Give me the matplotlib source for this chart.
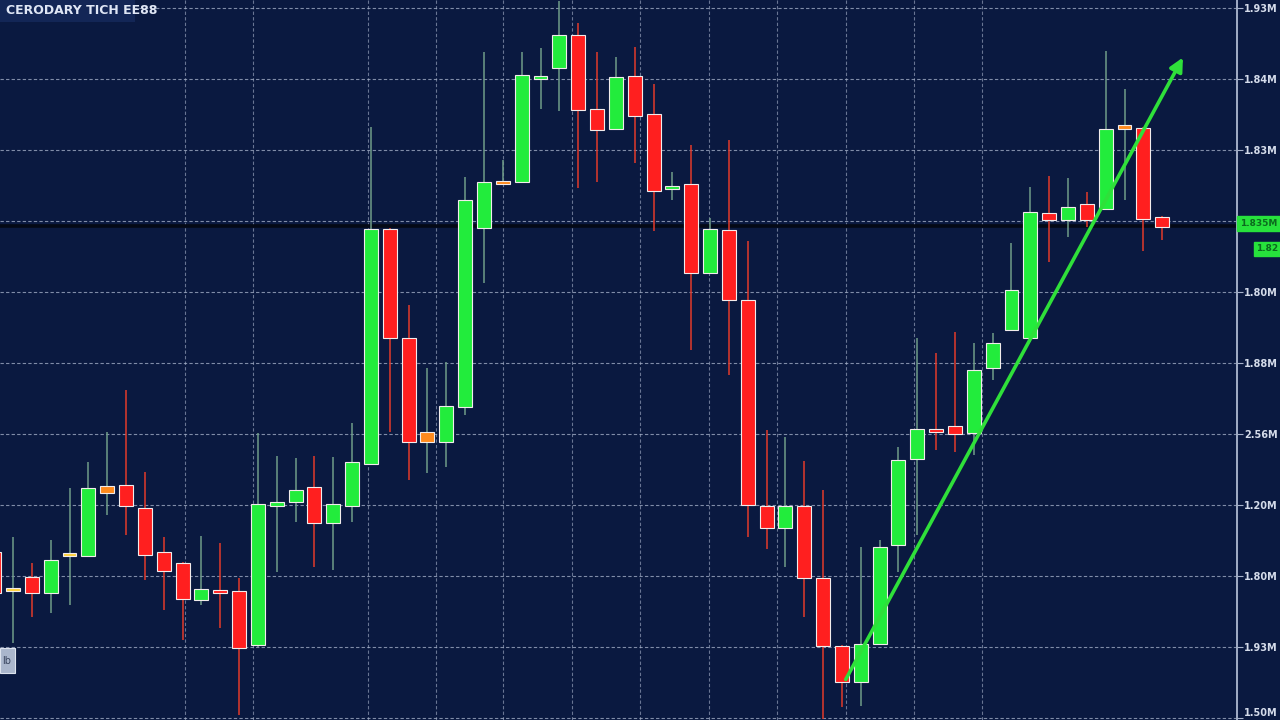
import matplotlib

matplotlib.use("Agg")
import matplotlib.pyplot as plt
import numpy as np
from matplotlib.patches import Rectangle

# ---- data (price units, one candle per session) ----
opens = [123.4, 117.9, 119.9, 117.6, 122.8, 122.8, 131.7, 132.8, 129.6, 123.4,
         121.8, 116.6, 117.8, 117.9, 110.3, 129.9, 130.4, 132.5, 127.5, 129.9,
         135.8, 168.9, 153.5, 138.9, 138.9, 143.8, 169.0, 175.2, 175.4, 190.0,
         191.5, 196.2, 185.8, 183.0, 190.4, 185.1, 174.5, 175.2, 162.7, 168.7,
         158.9, 129.9, 126.8, 129.9, 119.7, 110.1, 105.1, 110.4, 124.4, 136.5,
         140.5, 141.1, 140.1, 149.3, 154.6, 153.5, 171.1, 170.1, 172.4, 171.7,
         183.0, 183.1, 170.6]
highs = [125.1, 125.5, 121.8, 125.1, 132.4, 136.1, 140.3, 146.2, 134.6, 125.5,
         121.9, 125.6, 124.6, 119.7, 140.1, 136.9, 136.6, 136.9, 136.8, 141.5,
         183.2, 169.0, 158.2, 149.3, 150.1, 176.2, 193.8, 178.6, 193.8, 194.4,
         201.0, 197.9, 193.8, 193.1, 194.5, 189.2, 176.9, 180.7, 170.4, 181.4,
         167.2, 140.6, 139.6, 136.2, 132.1, 110.2, 124.0, 125.0, 138.2, 153.5,
         151.4, 154.4, 152.8, 154.2, 166.9, 174.8, 176.3, 176.1, 174.1, 193.9,
         188.5, 183.2, 170.7]
lows = [115.2, 110.6, 114.2, 114.8, 115.9, 122.6, 128.6, 125.8, 119.4, 115.2,
        110.9, 115.9, 112.7, 100.4, 110.0, 120.6, 127.6, 121.3, 120.8, 127.6,
        135.6, 140.3, 133.5, 134.5, 135.4, 142.7, 161.3, 175.0, 175.3, 185.8,
        185.4, 174.6, 175.4, 183.0, 178.2, 168.5, 173.0, 151.8, 162.6, 148.3,
        125.5, 123.8, 121.3, 114.2, 99.8, 101.5, 101.7, 110.3, 120.6, 125.8,
        137.7, 137.5, 137.0, 147.6, 154.6, 153.0, 164.2, 167.7, 169.2, 171.5,
        173.0, 165.8, 167.3]
closes = [117.6, 118.2, 117.6, 122.3, 123.0, 132.4, 132.7, 129.9, 123.0, 120.7,
          116.8, 118.2, 117.6, 109.9, 130.1, 130.1, 132.1, 127.5, 130.1, 136.1,
          168.9, 153.5, 138.9, 140.3, 143.9, 173.0, 175.5, 175.4, 190.6, 190.2,
          196.2, 185.6, 182.8, 190.3, 184.8, 174.2, 174.7, 162.7, 168.9, 158.9,
          130.0, 126.8, 129.9, 119.7, 110.1, 105.1, 110.4, 124.1, 136.3, 140.7,
          140.3, 140.0, 149.0, 152.8, 160.3, 171.3, 170.1, 172.0, 170.1, 183.0,
          183.2, 170.3, 169.2]
first_index = -1

price_ticks = [200, 190, 180, 170, 160, 150, 140, 130, 120, 110, 100]
price_labels = ["1.93M", "1.84M", "1.83M", "", "1.80M", "1.88M",
                "2.56M", "1.20M", "1.80M", "1.93M", "1.50M"]
last_price = 169.3
last_labels = ["1.835M", "1.82"]
title_text = "CERODARY TICH EE88"
trend_start = (44.2, 105.4)
trend_end = (62.1, 193.0)

# styling
BG = "#0a1940"
GREEN = "#22ec3c"
RED = "#ff1f1f"
ORANGE = "#ff8a1c"
YELLOW = "#ffd23a"
highlight = {1: YELLOW, 4: YELLOW, 6: ORANGE, 23: ORANGE, 27: ORANGE, 60: ORANGE}
v_grid = [9.13, 12.74, 18.84, 22.45, 26.0, 29.67, 33.28, 36.94, 40.55, 44.21, 47.82, 51.43]

fig = plt.figure(figsize=(12.8, 7.2), dpi=100, facecolor=BG)
ax = fig.add_axes([0, 0, 1237 / 1280, 1])
ax.set_facecolor(BG)

x = np.arange(len(opens)) + first_index
o = np.array(opens)
h = np.array(highs)
l = np.array(lows)
c = np.array(closes)
up = c >= o

body_col = [GREEN if u else RED for u in up]
for k, col in highlight.items():
    body_col[k] = col
wick_col = ["#6f9c88" if u else "#e23a2a" for u in up]

ax.vlines(x, l, h, colors=wick_col, linewidth=1.1, zorder=3)
bottom = np.minimum(o, c)
height = np.maximum(np.abs(c - o), 0.45)
ax.bar(x, height, bottom=bottom, width=0.74, color=body_col,
       edgecolor="#f2ecec", linewidth=0.8, zorder=4)

# grid
for yv in price_ticks:
    ax.axhline(yv, color="#a9b4cc", lw=0.8, ls=(0, (3, 2)), alpha=0.75, zorder=1)
for xv in v_grid:
    ax.axvline(xv, color="#a9b4cc", lw=0.8, ls=(0, (3, 2)), alpha=0.6, zorder=1)

# last price line
ax.axhline(last_price, color="#040916", lw=2.6, zorder=2)

# trend arrow
ax.annotate("", xy=trend_end, xytext=trend_start,
            arrowprops=dict(arrowstyle="-|>", color="#2fe03a", lw=2.6,
                            mutation_scale=20, shrinkA=0, shrinkB=0),
            zorder=6)

ax.set_xlim(-0.69, 64.97)
ax.set_ylim(99.7, 201.1)
ax.set_xticks([])
ax.yaxis.tick_right()
ax.set_yticks(price_ticks)
ax.set_yticklabels(price_labels)
ax.tick_params(axis="y", length=4, width=0.8, color="#a9b4cc", pad=1,
               labelsize=7, labelcolor="#d4dbea")
for t in ax.get_yticklabels():
    t.set_fontweight("bold")
# bottom label sits on the lower edge; keep it inside the frame
ax.get_yticklabels()[-1].set_verticalalignment("bottom")
for side in ("top", "bottom", "left"):
    ax.spines[side].set_visible(False)
ax.spines["right"].set_color("#a3aec6")
ax.spines["right"].set_linewidth(1.4)

# right side price tags
fy = (last_price - 99.7) / (201.1 - 99.7)
fig.text(1240 / 1280, fy + 0.003, last_labels[0], fontsize=6.5, fontweight="bold",
         color="#0c6a1e", va="center", ha="left",
         bbox=dict(boxstyle="square,pad=0.3", fc="#27e23c", ec="#27e23c"))
fig.text(1256 / 1280, fy - 0.032, last_labels[1], fontsize=6.5, fontweight="bold",
         color="#0c6a1e", va="center", ha="left",
         bbox=dict(boxstyle="square,pad=0.25", fc="#27e23c", ec="#27e23c"))

# title badge
fig.patches.append(Rectangle((0, 1 - 22 / 720), 135 / 1280, 22 / 720,
                             transform=fig.transFigure, fc="#132656", ec="none",
                             zorder=5))
fig.text(6 / 1280, 1 - 11 / 720, title_text, fontsize=9, fontweight="bold",
         color="#dfe6f5", va="center", ha="left", zorder=6)

# small tool icon on the left
fig.patches.append(Rectangle((0, 1 - 673 / 720), 15 / 1280, 25 / 720,
                             transform=fig.transFigure, fc="#aab6cc", ec="#dde3ee",
                             lw=0.8, zorder=5))
fig.text(2 / 1280, 1 - 661 / 720, "lb", fontsize=7, color="#3a4660",
         va="center", ha="left", zorder=6)

fig.savefig("out.png", dpi=100, facecolor=BG)
